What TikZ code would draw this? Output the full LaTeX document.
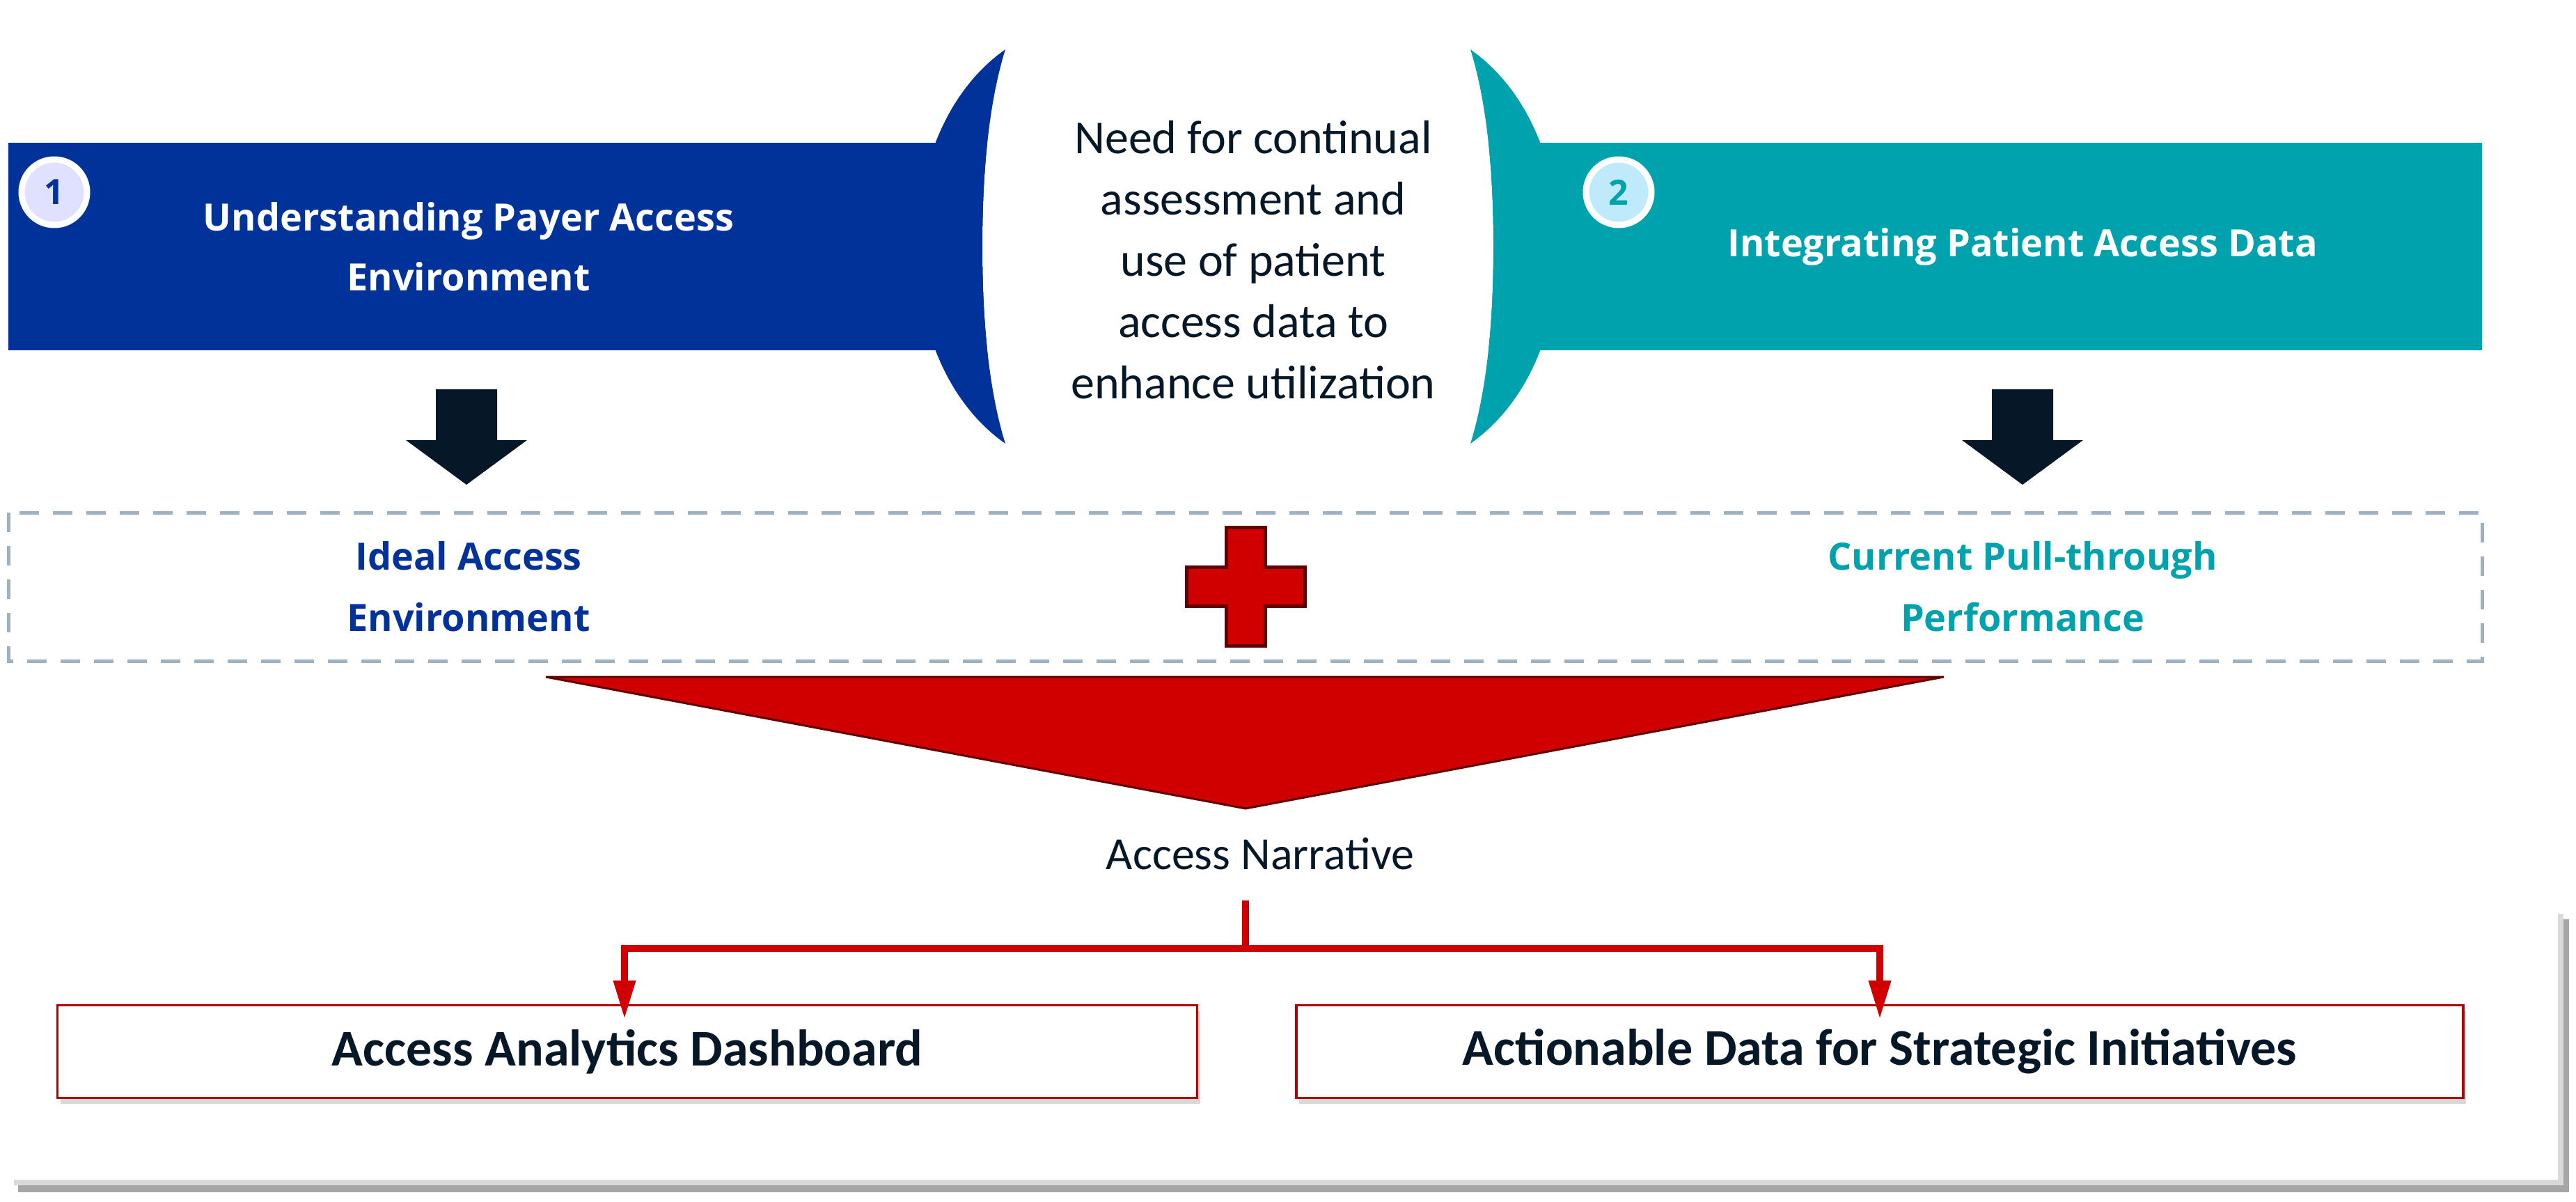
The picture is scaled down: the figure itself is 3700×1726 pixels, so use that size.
\documentclass[tikz,border=0pt]{standalone}
\usepackage{fontspec}
\setmainfont{Carlito}
\newfontfamily\osans{Open Sans}
\usetikzlibrary{arrows.meta,shadows}
\definecolor{navy}{HTML}{00329A}
\definecolor{tealc}{HTML}{00A3AD}
\definecolor{ink}{HTML}{061828}
\definecolor{dredd}{HTML}{600000}
\definecolor{redd}{HTML}{D00000}
\definecolor{dashc}{HTML}{9FB0C2}
\tikzset{
  ttl/.style={font=\osans\bfseries\fontsize{54}{86}\selectfont,text=white,align=center},
  sub/.style={font=\osans\bfseries\fontsize{54}{88}\selectfont,align=center},
  bigarrow/.style={fill=ink},
  badge/.style={circle,draw=white,line width=9pt,minimum size=94pt,inner sep=0pt,font=\osans\bfseries\fontsize{50}{50}\selectfont},
  outbox/.style={draw=redd!85!black,line width=3.5pt,fill=white,minimum width=1637pt,minimum height=133pt,font=\bfseries\fontsize{74}{74}\selectfont,text=ink,drop shadow={shadow xshift=4pt,shadow yshift=-8pt,opacity=0.3}},
  conn/.style={draw=redd,line width=10pt},
}
\begin{document}
\begin{tikzpicture}[x=1pt,y=-1pt]
\useasboundingbox (0,0) rectangle (3700,1726);
% bottom panel
\fill[black!35] (26,1320) rectangle (3690,1712);
\fill[black!15] (20,1312) rectangle (3682,1702);
\fill[white] (14,1305) rectangle (3674,1694);
% header bars
\fill[navy] (12,205) rectangle (1430,503);
\fill[tealc] (2130,205) rectangle (3565,503);
% white lens
\fill[white] (1444,71) .. controls (1420,148) and (1411,248) .. (1411,354) .. controls (1411,460) and (1420,560) .. (1444,637) -- (2112,637) .. controls (2136,560) and (2145,460) .. (2145,354) .. controls (2145,248) and (2136,148) .. (2112,71) -- cycle;
% crescents
\fill[navy] (1444,71) .. controls (1360,130) and (1317,240) .. (1317,354) .. controls (1317,468) and (1360,578) .. (1444,637) .. controls (1420,560) and (1411,460) .. (1411,354) .. controls (1411,248) and (1420,148) .. (1444,71) -- cycle;
\fill[tealc] (2112,71) .. controls (2196,130) and (2239,240) .. (2239,354) .. controls (2239,468) and (2196,578) .. (2112,637) .. controls (2136,560) and (2145,460) .. (2145,354) .. controls (2145,248) and (2136,148) .. (2112,71) -- cycle;
\node[font=\fontsize{68}{88}\selectfont,text=ink,align=center] (need) at (1800,373) {Need for continual\\assessment and\\use of patient\\access data to\\enhance utilization};
% badges and titles
\node[badge,fill=blue!12,text=navy] (b1) at (78,276) {1};
\node[badge,fill=cyan!25,text=tealc] (b2) at (2325,276) {2};
\node[ttl] (t1) at (673,354) {Understanding Payer Access\\Environment};
\node[ttl] (t2) at (2905,354) {Integrating Patient Access Data};
% down arrows
\foreach \cx/\nm in {670/a1,2905/a2}{
  \fill[bigarrow] (\cx-44,559) -- (\cx+44,559) -- (\cx+44,632) -- (\cx+87,632) -- (\cx,696) -- (\cx-87,632) -- (\cx-44,632) -- cycle;
}
% dashed box
\draw[dashc,line width=5pt,dash pattern=on 28pt off 20pt] (12,736) rectangle (3565,949);
\node[sub,text=navy] (ideal) at (673,842) {Ideal Access\\Environment};
\node[sub,text=tealc] (curr) at (2905,842) {Current Pull-through\\Performance};
% plus
\filldraw[fill=redd,draw=dredd,line width=5pt] (1761,757) -- (1817,757) -- (1817,814) -- (1874,814) -- (1874,870) -- (1817,870) -- (1817,927) -- (1761,927) -- (1761,870) -- (1704,870) -- (1704,814) -- (1761,814) -- cycle;
% funnel triangle
\filldraw[fill=redd,draw=dredd,line width=3pt] (784,972) -- (2792,972) -- (1789,1161) -- cycle;
\node[font=\fontsize{66}{66}\selectfont,text=ink] (narr) at (1810,1226) {Access Narrative};
% output boxes
\node[outbox] (d1) at (901,1510) {Access Analytics Dashboard};
\node[outbox,minimum width=1676pt] (d2) at (2700,1510) {Actionable Data for Strategic Initiatives};
\coordinate (top) at (1789,1293);
\coordinate (junc) at (1789,1362);
\draw[conn] (top) -- (junc);
\draw[conn,-{Triangle[width=30pt,length=56pt]}] (junc) -| ([yshift=-22pt]d1.north -| 897,0);
\draw[conn,-{Triangle[width=30pt,length=56pt]}] (junc) -| ([yshift=-22pt]d2.north -| 2700,0);
\end{tikzpicture}
\end{document}
